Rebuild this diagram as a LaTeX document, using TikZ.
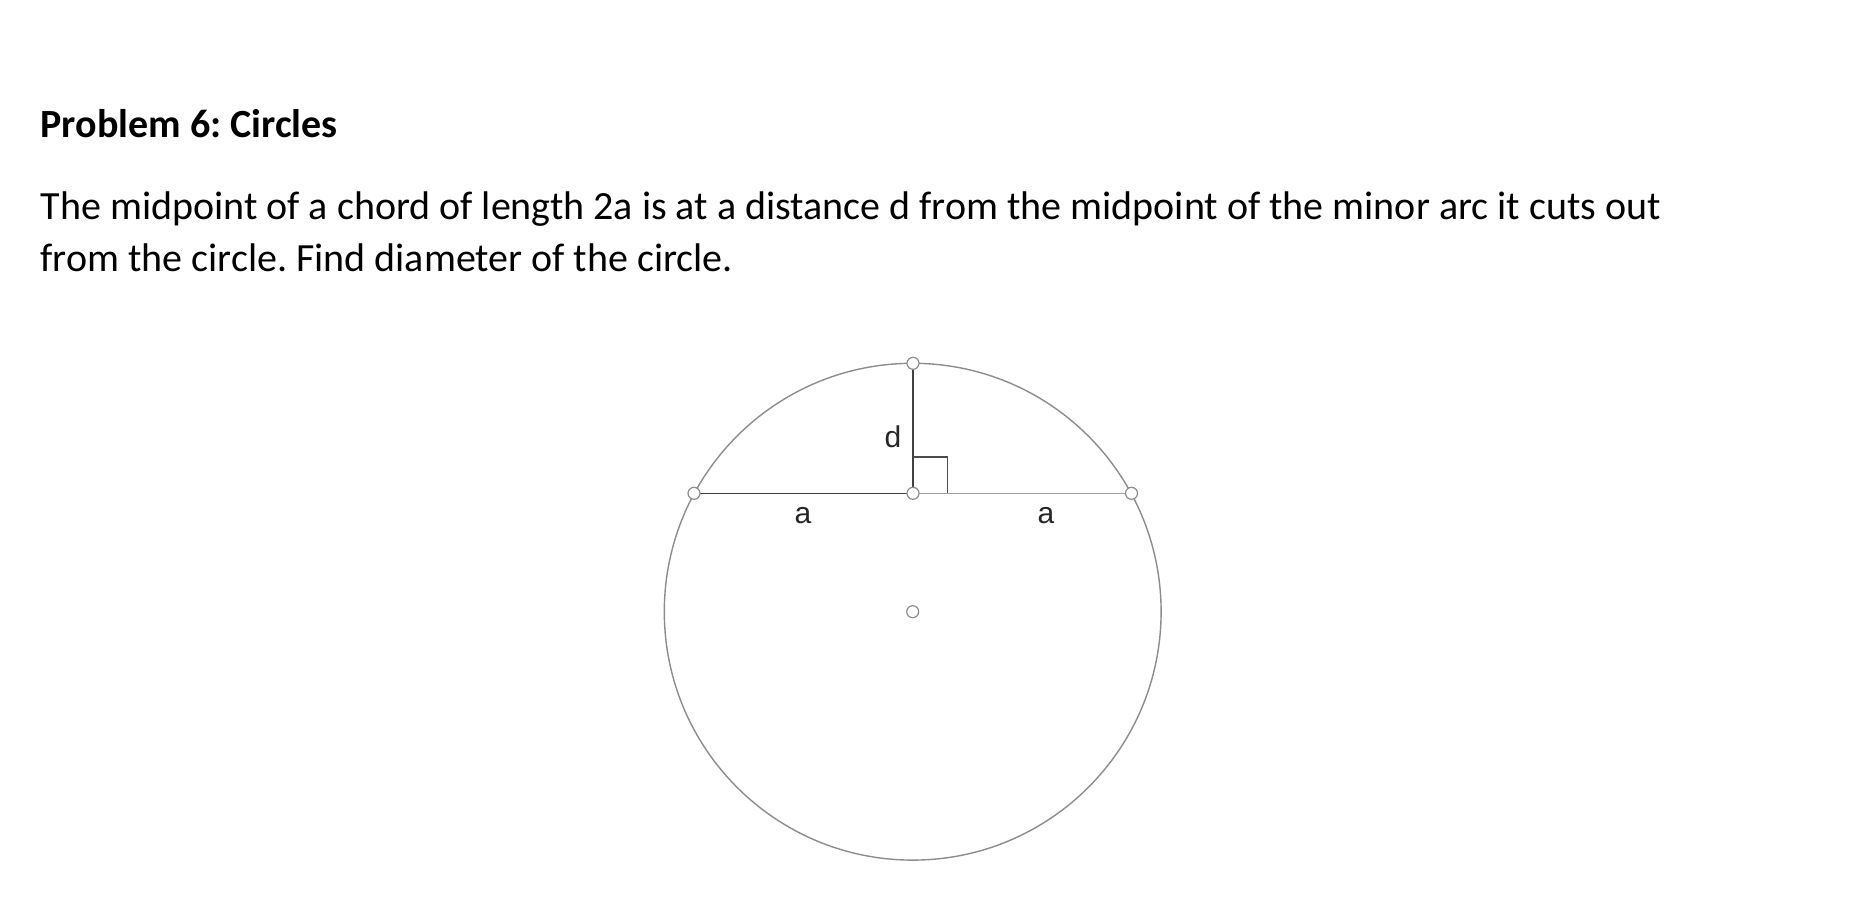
\documentclass[tikz,border=0pt]{standalone}
\usepackage{fontspec}
\setmainfont{Carlito}
\newfontfamily\labelfont{Liberation Sans}
\frenchspacing
\begin{document}
\begin{tikzpicture}[x=1pt,y=-1pt,
  pt/.style={circle,draw=gray!90,fill=white,line width=1.2pt,inner sep=0pt,minimum size=12pt},
  body/.style={anchor=base west,inner sep=0pt,font=\fontsize{40}{48}\selectfont},
  lab/.style={inner sep=0pt,font=\labelfont\fontsize{30}{34}\selectfont,text=black!85}]
\useasboundingbox (0,0) rectangle (1870,920);
\node[body,font=\fontsize{40}{48}\selectfont\bfseries] (title) at (40.5,138) {Problem 6: Circles};
\node[body] (l1) at (40.5,219) {The midpoint of a chord of length 2a is at a distance d from the midpoint of the minor arc it cuts out};
\node[body] (l2) at (40.5,271) {from the circle. Find diameter of the circle.};
\coordinate (Oc) at (912.7,611.7);
\draw[gray!90,line width=1.4pt] (Oc) circle (248.4pt);
\coordinate (Tc) at (913,363.3);
\coordinate (Mc) at (913,493.3);
\coordinate (Lc) at (694,493.3);
\coordinate (Rc) at (1131.5,493.3);
\draw[black!75,line width=1.5pt] (Lc) -- (Mc);
\draw[gray!75,line width=1.5pt] (Mc) -- (Rc);
\draw[black!75,line width=1.5pt] (Mc) -- (Tc);
\draw[black!70,line width=1.3pt] (913,457) -- (947.5,457) -- (947.5,493.3);
\node[pt] (T) at (Tc) {};
\node[pt] (M) at (Mc) {};
\node[pt] (L) at (Lc) {};
\node[pt] (R) at (Rc) {};
\node[pt] (O) at (Oc) {};
\node[lab] (d) at (893,437) {d};
\node[lab] (a1) at (803,516) {a};
\node[lab] (a2) at (1046,516) {a};
\end{tikzpicture}
\end{document}
